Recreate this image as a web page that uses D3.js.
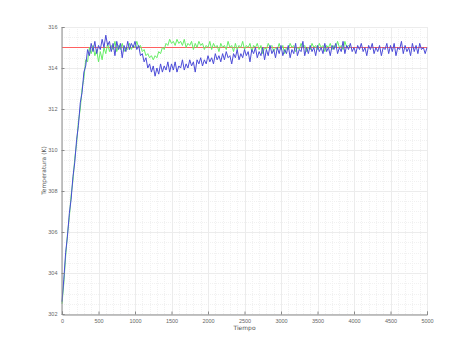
<!DOCTYPE html>
<html>
<head>
<meta charset="utf-8">
<script src="https://cdn.jsdelivr.net/npm/d3@7"></script>
<style>
  body { margin: 0; background: #fff; }
  svg { display: block; font-family: "DejaVu Sans", sans-serif; }
</style>
</head>
<body>
<div id="chart"></div>
<script>
// sampled every 25 time units
var step = 25;
var blueTemp = [
  302.6, 303.7, 305.0, 305.8, 306.9, 307.6, 308.7, 309.4, 310.5, 311.2,
  312.3, 312.8, 313.8, 314.1, 314.9, 314.6, 315.2, 314.8, 315.3, 314.7,
  315.1, 314.9, 315.4, 315.0, 315.6, 315.1, 315.3, 314.8, 315.2, 314.6,
  315.3, 314.9, 315.2, 314.5, 315.1, 314.8, 315.3, 314.9, 315.2, 315.0,
  315.3, 314.9, 315.1, 314.6, 314.7, 314.3, 314.5, 314.0, 314.2, 313.8,
  314.1, 313.6, 314.0, 313.7, 314.2, 313.8, 314.1, 313.9, 314.3, 313.8,
  314.2, 313.9, 314.3, 313.8, 314.1, 314.0, 314.4, 313.9, 314.2, 314.0,
  314.4, 314.1, 314.3, 313.8, 314.4, 314.2, 314.5, 314.1, 314.4, 314.2,
  314.6, 314.3, 314.5, 314.2, 314.7, 314.4, 314.6, 314.3, 314.7, 314.4,
  314.8, 314.5, 314.6, 314.2, 314.7, 314.5, 314.9, 314.4, 314.7, 314.5,
  314.9, 314.6, 314.8, 314.3, 314.9, 314.7, 315.0, 314.5, 314.8, 314.6,
  315.0, 314.4, 314.9, 314.6, 315.1, 314.7, 314.9, 314.5, 315.0, 314.7,
  315.1, 314.6, 314.9, 314.7, 315.1, 314.5, 314.9, 314.7, 315.2, 314.6,
  314.9, 314.8, 315.3, 314.6, 315.0, 314.7, 315.1, 314.8, 315.0, 314.6,
  315.1, 314.8, 315.0, 314.7, 315.2, 314.8, 315.0, 314.6, 315.1, 314.9,
  315.2, 314.7, 315.0, 314.8, 315.3, 314.7, 315.1, 314.9, 315.2, 314.8,
  315.0, 314.7, 315.1, 314.9, 315.2, 314.8, 315.0, 314.6, 315.1, 314.9,
  315.2, 314.7, 315.0, 314.8, 315.1, 314.6, 315.0, 314.9, 315.2, 314.7,
  315.1, 314.8, 315.2, 314.6, 315.0, 314.9, 315.3, 314.7, 315.1, 314.8,
  315.0, 314.6, 315.2, 314.8, 315.1, 314.7, 315.2, 314.9, 315.0, 314.7,
  315.0
];
var greenTemp = [
  302.5, 303.5, 304.8, 305.9, 306.7, 307.8, 308.5, 309.6, 310.3, 311.4,
  312.0, 313.0, 313.5, 314.4, 314.3, 315.0, 314.7, 315.1, 314.6, 314.9,
  314.3, 314.8, 314.4, 315.0, 314.7, 315.2, 314.8, 315.1, 314.9, 315.3,
  314.8, 315.1, 314.9, 315.2, 314.8, 315.0, 314.9, 315.2, 314.9, 315.1,
  315.0, 315.3, 315.0, 315.1, 314.8, 314.9, 314.6, 314.7, 314.5, 314.6,
  314.4, 314.6, 314.5, 314.8, 314.7, 315.0, 314.9, 315.2, 315.1, 315.4,
  315.2, 315.3, 315.1, 315.4, 315.2, 315.3, 315.1, 315.4, 315.0, 315.2,
  315.1, 315.3, 314.9, 315.2, 315.0, 315.3, 315.1, 315.2, 314.9, 315.1,
  315.0, 315.3, 314.9, 315.2, 315.0, 315.1, 314.8, 315.2, 315.0, 315.1,
  314.9, 315.3, 315.0, 315.1, 314.8, 315.2, 314.9, 315.1, 315.0, 315.3,
  314.9, 315.1, 315.0, 315.2, 314.8, 315.1, 315.0, 315.2, 314.9, 315.1,
  314.7, 315.0, 314.9, 315.2, 315.0, 315.1, 314.8, 315.0, 314.9, 315.2,
  314.9, 315.1, 314.7, 315.0, 314.9, 315.2, 315.0, 315.1, 314.8, 315.0,
  314.9, 315.2, 315.0, 315.1, 314.8, 315.0, 314.9, 315.2, 315.0, 315.1,
  314.9, 315.2, 315.0, 315.1, 314.8, 315.1, 315.0, 315.2, 314.9, 315.1,
  315.0, 315.3, 315.0, 315.1, 314.9, 315.3, 315.0, 315.1, 315.0
];
var setPoint = 315;
var xTicks = [0, 500, 1000, 1500, 2000, 2500, 3000, 3500, 4000, 4500, 5000];
var yTicks = [302, 304, 306, 308, 310, 312, 314, 316];

var col_blue  = "#4b4bd8";
var col_green = "#66ee66";
var col_red   = "#ff6060";
var col_grid  = "#ececec";
var col_axis  = "#8a8a8a";
var col_text  = "#666";

var width = 473, height = 338;
var plotLeft = 62, plotRight = 427, plotTop = 27, plotBottom = 314;

var x = d3.scaleLinear().domain([0, 5000]).range([plotLeft, plotRight]);
var y = d3.scaleLinear().domain([302, 316]).range([plotBottom, plotTop]);

var svg = d3.select("#chart").append("svg")
    .attr("width", width)
    .attr("height", height);

// minor grid
svg.append("g").selectAll("line")
    .data(d3.range(0, 5001, 100))
    .enter().append("line")
    .attr("x1", function(d) { return Math.round(x(d)) + 0.5; })
    .attr("x2", function(d) { return Math.round(x(d)) + 0.5; })
    .attr("y1", plotTop).attr("y2", plotBottom)
    .attr("stroke", "#f1f1f1").attr("stroke-dasharray", "1,1");
svg.append("g").selectAll("line")
    .data(d3.range(302, 316.01, 0.5))
    .enter().append("line")
    .attr("y1", function(d) { return Math.round(y(d)) + 0.5; })
    .attr("y2", function(d) { return Math.round(y(d)) + 0.5; })
    .attr("x1", plotLeft).attr("x2", plotRight)
    .attr("stroke", "#f1f1f1").attr("stroke-dasharray", "1,1");

// major grid
svg.append("g").selectAll("line")
    .data(xTicks)
    .enter().append("line")
    .attr("x1", function(d) { return Math.round(x(d)) + 0.5; })
    .attr("x2", function(d) { return Math.round(x(d)) + 0.5; })
    .attr("y1", plotTop).attr("y2", plotBottom)
    .attr("stroke", col_grid);
svg.append("g").selectAll("line")
    .data(yTicks)
    .enter().append("line")
    .attr("y1", function(d) { return Math.round(y(d)) + 0.5; })
    .attr("y2", function(d) { return Math.round(y(d)) + 0.5; })
    .attr("x1", plotLeft).attr("x2", plotRight)
    .attr("stroke", col_grid);

// set point
svg.append("line")
    .attr("x1", x(0)).attr("x2", x(5000))
    .attr("y1", Math.round(y(setPoint)) + 0.5).attr("y2", Math.round(y(setPoint)) + 0.5)
    .attr("stroke", col_red).attr("stroke-width", 1);

var line = d3.line()
    .x(function(d, i) { return x(i * step); })
    .y(function(d) { return y(d); });

svg.append("path").datum(greenTemp)
    .attr("d", line)
    .attr("fill", "none")
    .attr("stroke", col_green)
    .attr("stroke-width", 1);

svg.append("path").datum(blueTemp)
    .attr("d", line)
    .attr("fill", "none")
    .attr("stroke", col_blue)
    .attr("stroke-width", 1);

// axes
var xAxis = d3.axisBottom(x).tickValues(xTicks).tickSize(-3).tickPadding(5)
    .tickFormat(d3.format("d"));
var yAxis = d3.axisLeft(y).tickValues(yTicks).tickSize(-3).tickPadding(4)
    .tickFormat(d3.format("d"));

var gx = svg.append("g")
    .attr("transform", "translate(0," + (plotBottom + 0.5) + ")")
    .call(xAxis);
var gy = svg.append("g")
    .attr("transform", "translate(" + (plotLeft - 0.5) + ",0)")
    .call(yAxis);

[gx, gy].forEach(function(g) {
    g.select(".domain").attr("stroke", col_axis);
    g.selectAll(".tick line").attr("stroke", col_axis);
    g.selectAll(".tick text")
        .attr("fill", col_text)
        .style("font-size", "5.5px");
});

svg.append("text")
    .attr("x", (plotLeft + plotRight) / 2)
    .attr("y", 330)
    .attr("text-anchor", "middle")
    .attr("fill", "#555")
    .style("font-size", "6px")
    .text("Tiempo");

svg.append("text")
    .attr("transform", "translate(46," + ((plotTop + plotBottom) / 2) + ") rotate(-90)")
    .attr("text-anchor", "middle")
    .attr("fill", "#555")
    .style("font-size", "6px")
    .text("Temperatura (K)");
</script>
</body>
</html>
